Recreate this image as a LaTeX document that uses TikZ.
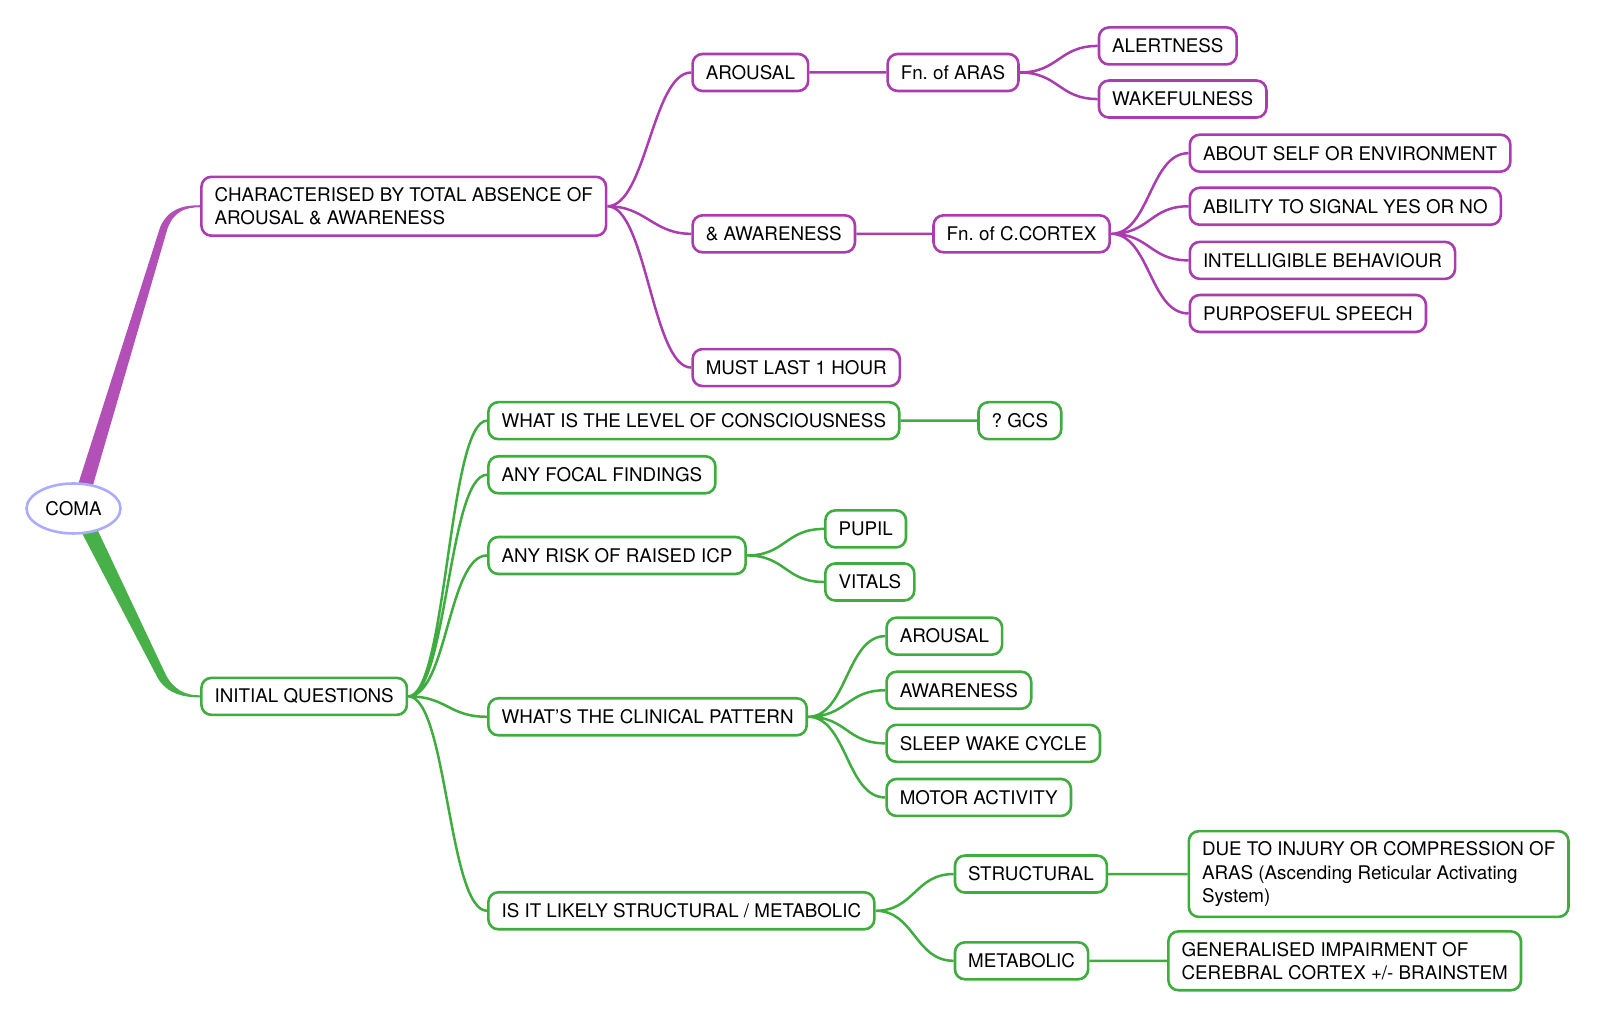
\documentclass[tikz,border=0pt]{standalone}
\usepackage{fontspec}
\setmainfont{TeX Gyre Heros}
\frenchspacing
\usetikzlibrary{shapes.geometric, backgrounds, calc}
\definecolor{plum}{RGB}{170,60,176}
\definecolor{leaf}{RGB}{62,172,62}
\definecolor{halo}{RGB}{172,172,255}
\tikzset{topic/.style={draw, rounded corners=5pt, line width=1.3pt, fill=white,
                       anchor=west, inner xsep=6.6pt, inner ysep=5.3pt,
                       minimum height=18.5pt, align=left,
                       font=\fontsize{9.4}{11.6}\selectfont},
         ptopic/.style={topic, draw=plum},
         gtopic/.style={topic, draw=leaf},
         twig/.style={line width=1.25pt,
                      to path={.. controls +(38,0) and +(-38,0) .. (\tikztotarget)}}}

\begin{document}
\begin{tikzpicture}[x=0.5106pt, y=-0.5106pt]
      \useasboundingbox (0,0) rectangle (1567,996);

      % centre
      \node[ellipse, draw=halo, line width=1.3pt, fill=white, minimum width=47pt,
            minimum height=25pt, inner sep=0pt, font=\fontsize{9.4}{11.6}\selectfont]
            (coma) at (72,498) {COMA};

      % purple side
      \node[ptopic] (char) at (196,202) {CHARACTERISED BY TOTAL ABSENCE OF\\AROUSAL \& AWARENESS};
      \node[ptopic] (arousal) at (677,71) {AROUSAL};
      \node[ptopic] (aras) at (868,71) {Fn. of ARAS};
      \node[ptopic] (alert) at (1075,45) {ALERTNESS};
      \node[ptopic] (wake) at (1075,97) {WAKEFULNESS};
      \node[ptopic] (aware) at (677,229) {\& AWARENESS};
      \node[ptopic] (cortex) at (913,229) {Fn. of C.CORTEX};
      \node[ptopic] (self) at (1164,150) {ABOUT SELF OR ENVIRONMENT};
      \node[ptopic] (signal) at (1164,202) {ABILITY TO SIGNAL YES OR NO};
      \node[ptopic] (behave) at (1164,255) {INTELLIGIBLE BEHAVIOUR};
      \node[ptopic] (speech) at (1164,307) {PURPOSEFUL SPEECH};
      \node[ptopic] (hour) at (677,360) {MUST LAST 1 HOUR};

      % green side
      \node[gtopic] (init) at (196,682) {INITIAL QUESTIONS};
      \node[gtopic] (level) at (477,412) {WHAT IS THE LEVEL OF CONSCIOUSNESS};
      \node[gtopic] (gcs) at (957,412) {? GCS};
      \node[gtopic] (focal) at (477,465) {ANY FOCAL FINDINGS};
      \node[gtopic] (icp) at (477,544) {ANY RISK OF RAISED ICP};
      \node[gtopic] (pupil) at (807,518) {PUPIL};
      \node[gtopic] (vitals) at (807,570) {VITALS};
      \node[gtopic] (pattern) at (477,702) {WHAT’S THE CLINICAL PATTERN};
      \node[gtopic] (parousal) at (867,623) {AROUSAL};
      \node[gtopic] (paware) at (867,676) {AWARENESS};
      \node[gtopic] (sleep) at (867,728) {SLEEP WAKE CYCLE};
      \node[gtopic] (motor) at (867,781) {MOTOR ACTIVITY};
      \node[gtopic] (likely) at (477,892) {IS IT LIKELY STRUCTURAL / METABOLIC};
      \node[gtopic] (struct) at (934,856) {STRUCTURAL};
      \node[gtopic] (metab) at (934,941) {METABOLIC};
      \node[gtopic] (injury) at (1163,856) {DUE TO INJURY OR COMPRESSION OF\\ARAS (Ascending Reticular Activating\\System)};
      \node[gtopic] (impair) at (1143,941) {GENERALISED IMPAIRMENT OF\\CEREBRAL CORTEX +/- BRAINSTEM};

      % tapered main branches
      \begin{scope}[on background layer]
        \fill[plum!90!white] ($(coma.north)+(2,10)$) -- ($(char.west)+(-39,20)$)
          .. controls ($(char.west)+(-31,3)$) and ($(char.west)+(-18,-1)$) .. ($(char.west)+(0,-1)$)
          -- ($(char.west)+(0,1)$)
          .. controls ($(char.west)+(-16,1)$) and ($(char.west)+(-26,6)$) .. ($(char.west)+(-32,22)$)
          -- ($(coma.north)+(17,10)$) -- cycle;
        \fill[leaf!95!white] ($(coma.south)+(5,-8)$) -- ($(init.west)+(-41,-17)$)
          .. controls ($(init.west)+(-31,-2)$) and ($(init.west)+(-16,1)$) .. ($(init.west)+(0,1)$)
          -- ($(init.west)+(0,-1)$)
          .. controls ($(init.west)+(-14,-1)$) and ($(init.west)+(-26,-6)$) .. ($(init.west)+(-34,-22)$)
          -- ($(coma.south)+(22,-8)$) -- cycle;
      \end{scope}

      \draw[twig, plum] (char.east) to (arousal.west)
        (char.east) to (aware.west)
        (char.east) to (hour.west)
        (arousal.east) to (aras.west)
        (aras.east) to (alert.west)
        (aras.east) to (wake.west)
        (aware.east) to (cortex.west)
        (cortex.east) to (self.west)
        (cortex.east) to (signal.west)
        (cortex.east) to (behave.west)
        (cortex.east) to (speech.west);

      \draw[twig, leaf] (init.east) to (level.west)
        (init.east) to (focal.west)
        (init.east) to (icp.west)
        (init.east) to (pattern.west)
        (init.east) to (likely.west)
        (level.east) to (gcs.west)
        (icp.east) to (pupil.west)
        (icp.east) to (vitals.west)
        (pattern.east) to (parousal.west)
        (pattern.east) to (paware.west)
        (pattern.east) to (sleep.west)
        (pattern.east) to (motor.west)
        (likely.east) to (struct.west)
        (likely.east) to (metab.west)
        (struct.east) to (injury.west)
        (metab.east) to (impair.west);
    \end{tikzpicture}
\end{document}
